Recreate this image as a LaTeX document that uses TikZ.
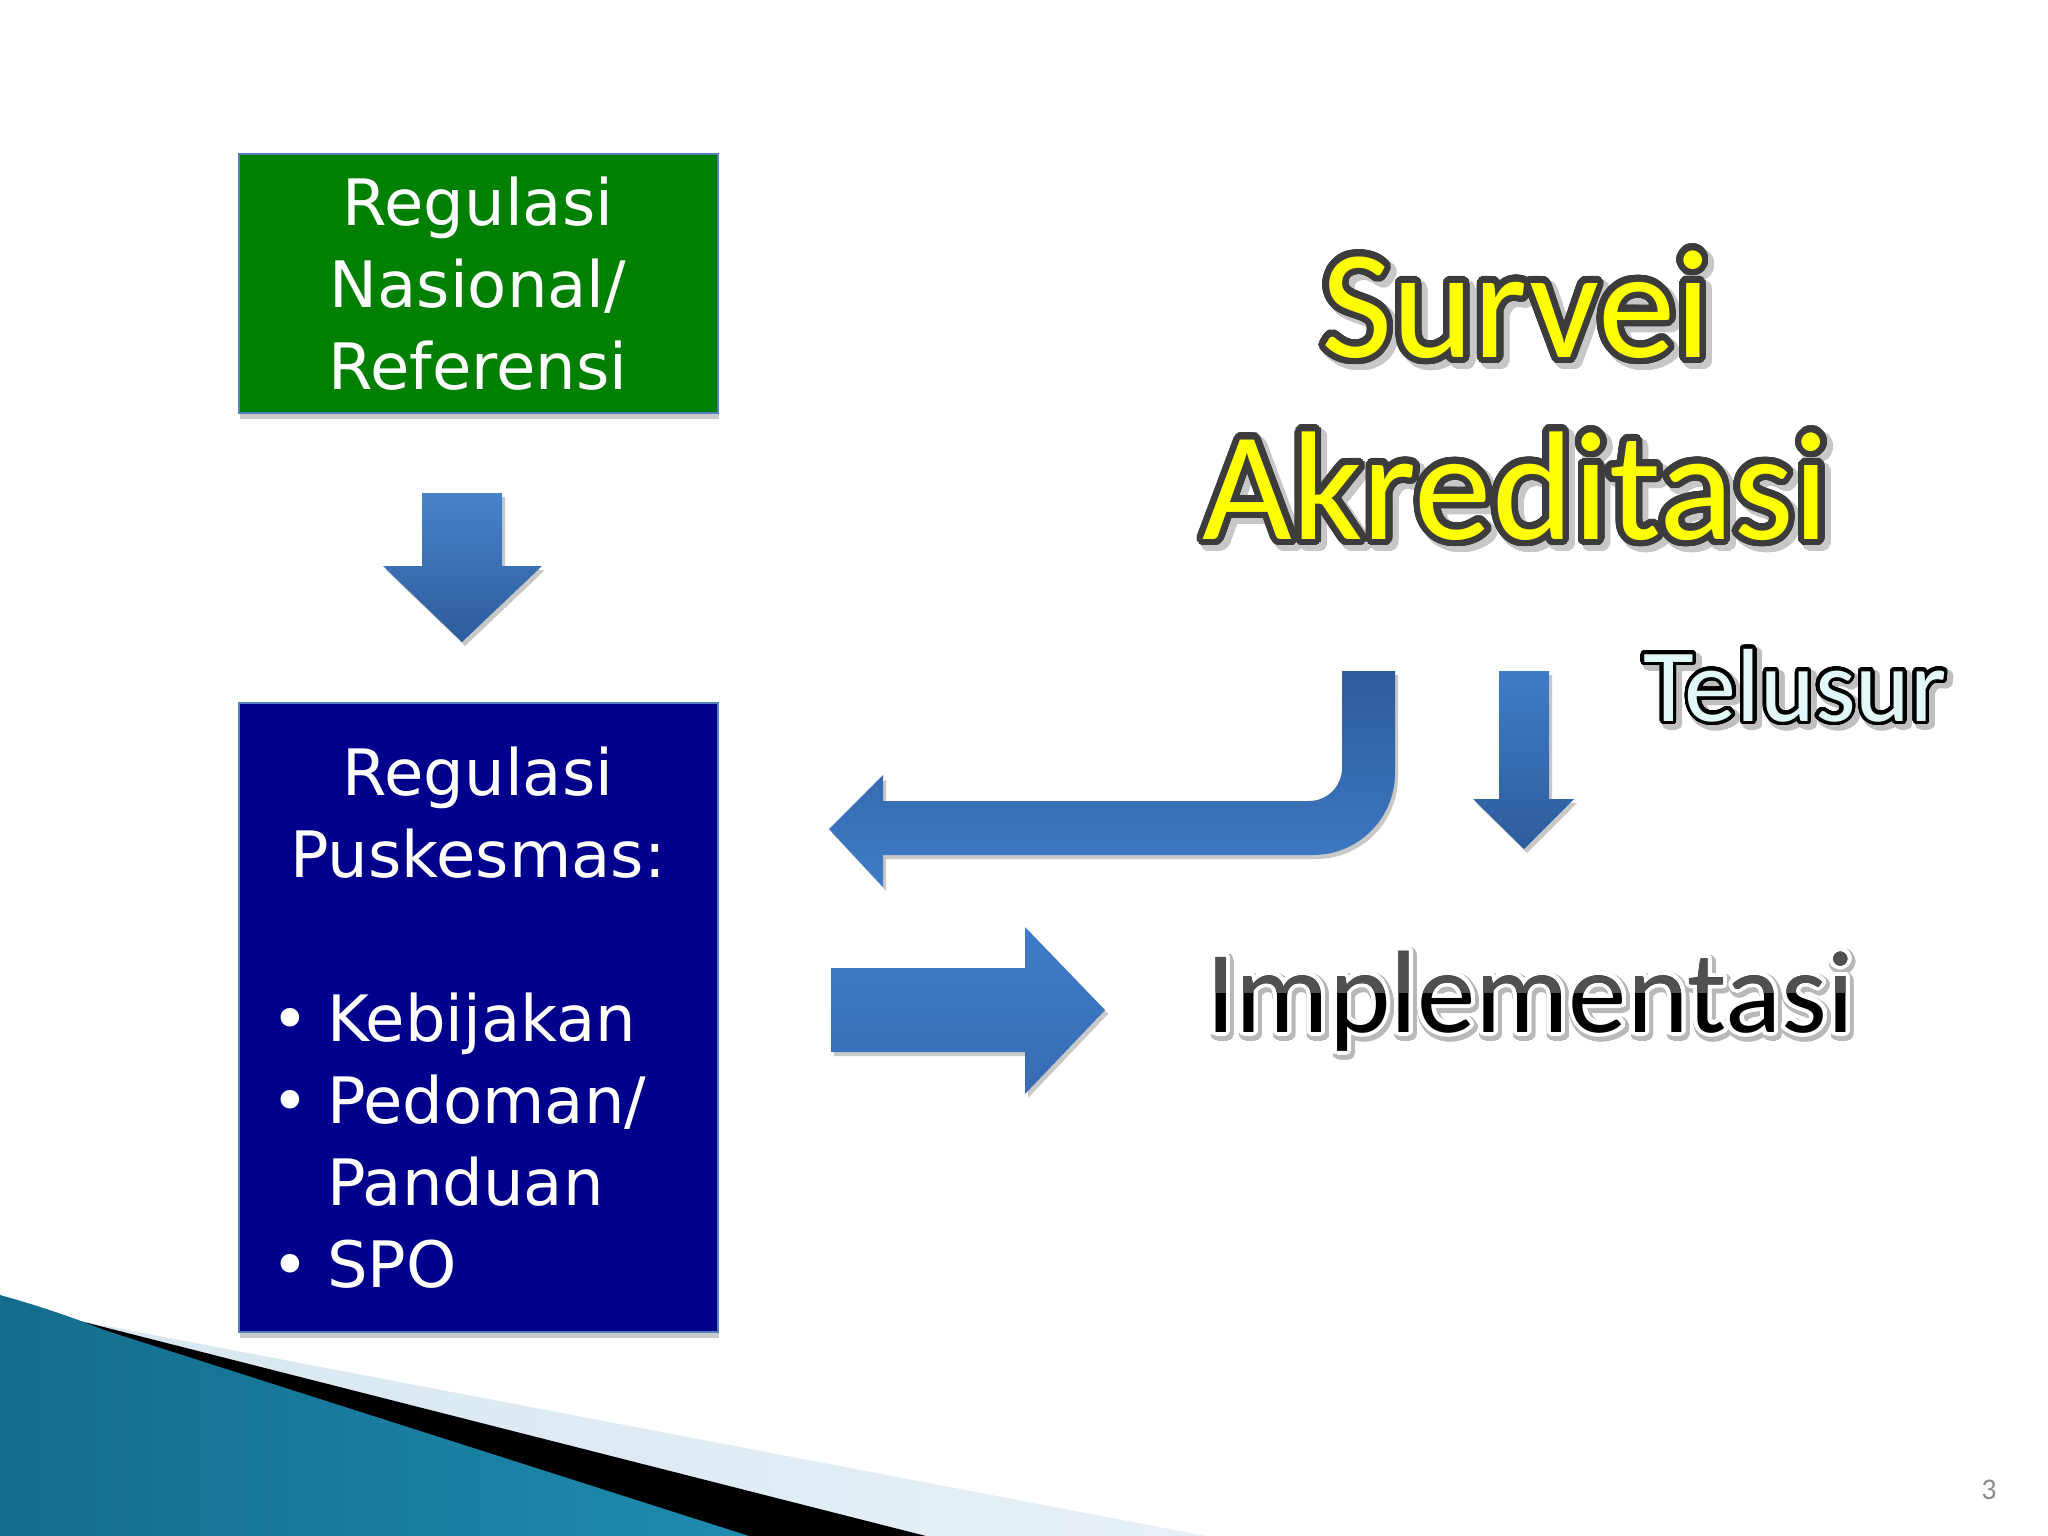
\documentclass[tikz,border=0pt]{standalone}
\usepackage{fontspec}
\usepackage{contour}
\usetikzlibrary{shadows}
\newfontfamily\boxfont{DejaVu Sans}
\newfontfamily\calfont{Carlito}
\definecolor{boxgreen}{RGB}{0,128,0}
\definecolor{boxnavy}{RGB}{0,0,140}
\definecolor{boxedge}{RGB}{84,128,190}
\definecolor{arrlight}{RGB}{63,124,200}
\definecolor{arrmid}{RGB}{55,108,180}
\definecolor{arrdark}{RGB}{45,92,155}
\definecolor{survfill}{RGB}{255,255,0}
\definecolor{survedge}{RGB}{60,60,60}
\definecolor{telfill}{RGB}{226,247,247}
\definecolor{implgrey}{RGB}{80,80,80}
\definecolor{tealdark}{RGB}{20,108,140}
\definecolor{teallight}{RGB}{86,184,218}
\definecolor{tealmid}{RGB}{30,140,176}
\definecolor{paleblue}{RGB}{214,230,240}
\contournumber{48}
\newcommand\bitem[1]{\makebox[414pt][l]{\makebox[38pt][c]{•}\hspace{18pt}#1}}
\begin{document}
\begin{tikzpicture}[x=1pt,y=-1pt,
  box/.style={draw=boxedge, line width=2pt, text=white, inner sep=0pt,
    minimum width=479pt, align=center,
    font=\boxfont\fontsize{64}{82}\selectfont,
    drop shadow={shadow xshift=1pt, shadow yshift=-6pt, opacity=0.35, fill=black!60}},
  blockarrow/.style={draw=none,
    drop shadow={shadow xshift=3pt, shadow yshift=-4pt, opacity=0.3, fill=black!70}},
  bigword/.style={inner sep=0pt, anchor=base, font=\calfont\fontsize{155}{165}\selectfont},
  midword/.style={inner sep=0pt, anchor=base, font=\calfont\fontsize{104}{112}\selectfont},
  implword/.style={inner sep=0pt, anchor=base, font=\calfont\fontsize{117}{124}\selectfont}
]
\useasboundingbox (0,0) rectangle (2048,1536);
\fill[white] (0,0) rectangle (2048,1536);

% bottom-left decoration
\shade[left color=paleblue, right color=paleblue!60] (80,1321) -- (1206,1536) -- (0,1536) -- cycle;
\fill[black] (80,1321) -- (926,1536) -- (0,1536) -- cycle;
\shade[left color=tealdark, middle color=teallight, right color=tealmid]
  (0,1295) .. controls (40,1306) and (80,1320) .. (104,1330) -- (749,1536) -- (0,1536) -- cycle;

% boxes
\node[box, fill=boxgreen, minimum height=259pt] (regnas) at (478,283.5)
  {Regulasi\\Nasional/\\Referensi};
\node[box, fill=boxnavy, minimum height=629pt] (regpusk) at (478,1017.5)
  {Regulasi\\Puskesmas:\\[82pt]\bitem{Kebijakan}\\\bitem{Pedoman/}\\\makebox[414pt][l]{\hspace{56pt}Panduan}\\\bitem{SPO}};

% left down arrow
\path[blockarrow, top color=arrlight!95!white, bottom color=arrdark]
  (422,493) -- (502,493) -- (502,566) -- (542,566) -- (462,642) -- (383,566) -- (422,566) -- cycle;

% bent arrow
\path[blockarrow, top color=arrdark, bottom color=arrlight]
  (829,829) -- (883,775) -- (883,801) -- (1309,801)
  .. controls (1327.2,801) and (1342,786.2) .. (1342,768)
  -- (1342,671) -- (1395,671) -- (1395,773)
  .. controls (1395,818.3) and (1358.3,855) .. (1313,855)
  -- (883,855) -- (883,887) -- cycle;

% small down arrow
\path[blockarrow, top color=arrlight, bottom color=arrdark]
  (1499,671) -- (1549,671) -- (1549,799) -- (1574,799) -- (1524,849) -- (1473,799) -- (1499,799) -- cycle;

% right arrow
\path[blockarrow, top color=arrlight, bottom color=arrmid]
  (831,968) -- (1025,968) -- (1025,927) -- (1105,1010) -- (1025,1094) -- (1025,1052) -- (831,1052) -- cycle;

% Survei Akreditasi
\node[bigword, text=black!22] at (1521,362) {\contourlength{7.5pt}\contour{black!22}{Survei}};
\node[bigword, text=survfill] (survei) at (1516,357) {\contourlength{6.5pt}\contour{survedge}{Survei}};
\node[bigword, text=black!22] at (1521,544) {\contourlength{7.5pt}\contour{black!22}{Akreditasi}};
\node[bigword, text=survfill] (akred) at (1516,539) {\contourlength{6.5pt}\contour{survedge}{Akreditasi}};

% Telusur
\node[midword, text=black!25] at (1799,725) {\contourlength{5pt}\contour{black!25}{Telusur}};
\node[midword, text=telfill] (telusur) at (1795,721) {\contourlength{3.5pt}\contour{black}{Telusur}};

% Implementasi
\node[implword, text=black!28] at (1532,1035) {\contourlength{6pt}\contour{black!28}{Implementasi}};
\node[implword, text=black] (impl) at (1530,1032) {\contourlength{4pt}\contour{white}{Implementasi}};
\begin{scope}
  \clip (1150,900) rectangle (1900,992);
  \node[implword, text=implgrey] at (1530,1032) {Implementasi};
\end{scope}

% page number
\node[inner sep=0pt, anchor=base, text=black!45, font=\calfont\fontsize{30}{32}\selectfont] (pgnum) at (1989,1499) {3};
\end{tikzpicture}
\end{document}
